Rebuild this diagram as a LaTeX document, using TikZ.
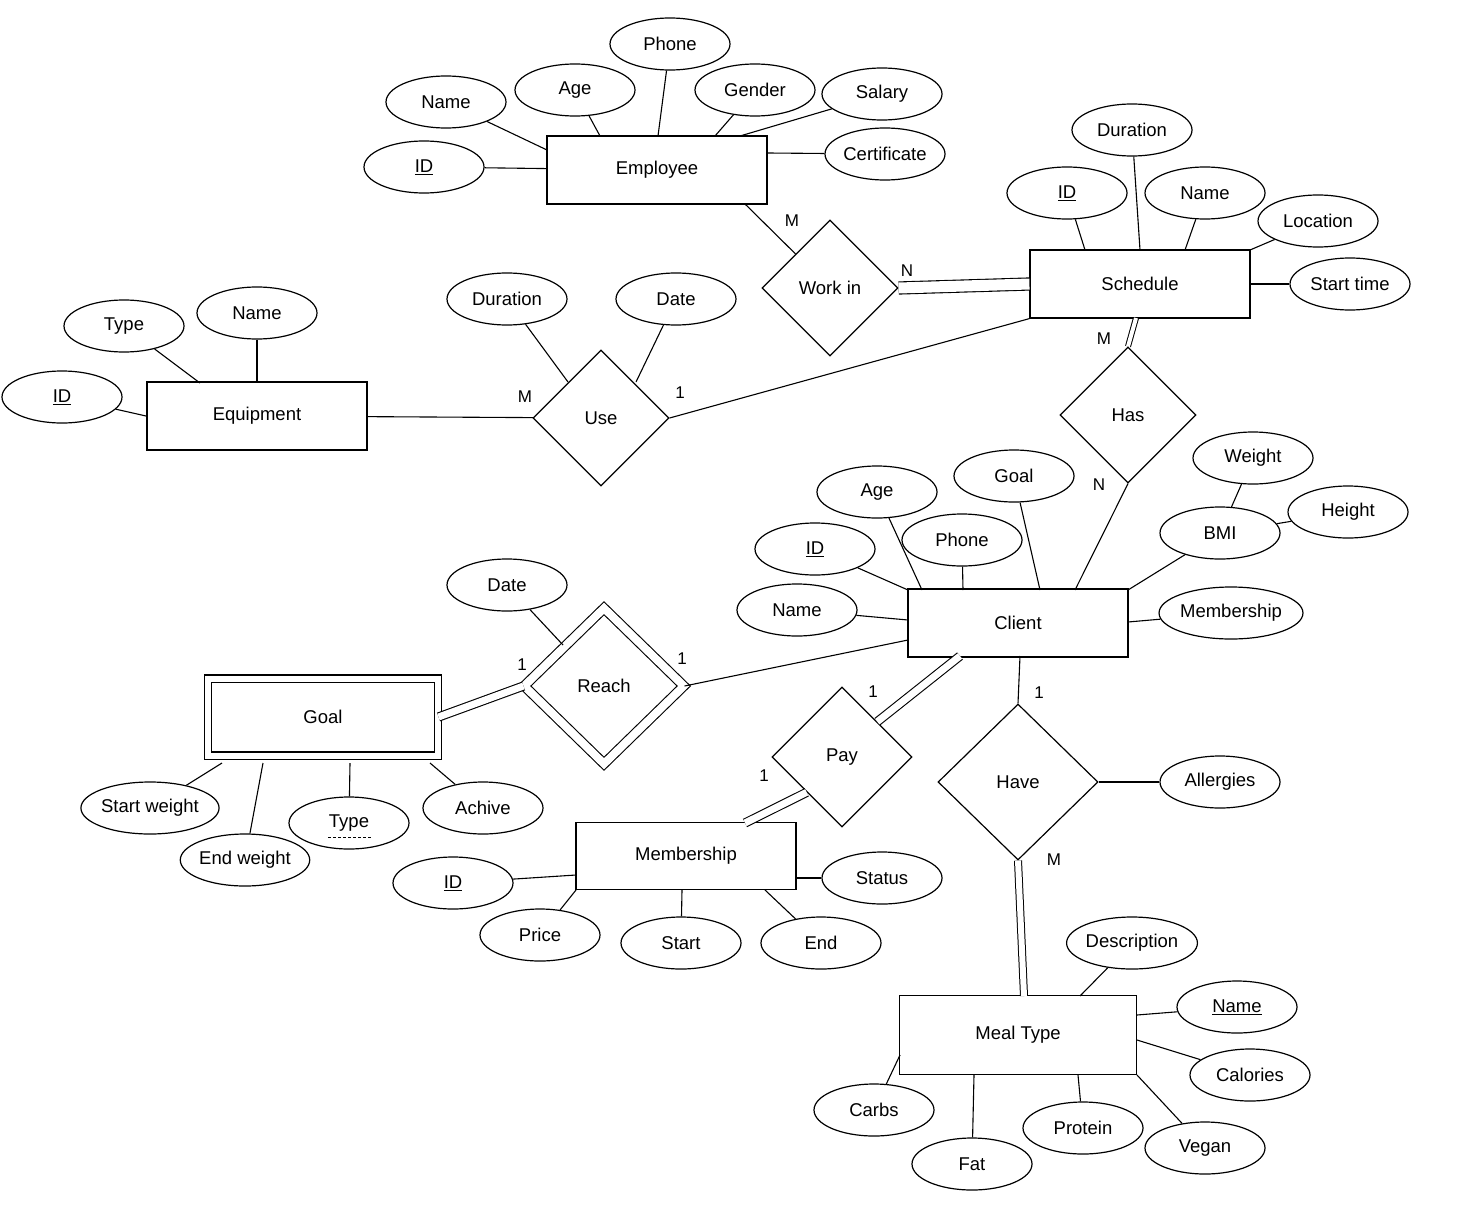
\documentclass[tikz,border=0pt]{standalone}
\usepackage{fontspec}
\setmainfont{Liberation Sans}
\usetikzlibrary{shapes.geometric}
\begin{document}
\begin{tikzpicture}[x=1pt,y=-1pt,font=\fontsize{18.5}{21}\selectfont,
 attr/.style={draw,ellipse,minimum width=120pt,minimum height=52pt,inner sep=0pt,line width=1.2pt},
 ent/.style={draw,rectangle,minimum width=220pt,minimum height=68pt,line width=1.2pt},
 rel/.style={draw,diamond,minimum width=136pt,minimum height=136pt,inner sep=0pt,line width=1.2pt},
 lk/.style={line width=1.1pt},
 dbl/.style={line width=1.1pt,double,double distance=7pt},
 lab/.style={font=\fontsize{17}{19}\selectfont}]
\useasboundingbox (0,0) rectangle (1482,1231);
% Employee
\node[ent] (emp) at (657,170) {Employee};
\node[attr] (ephone) at (670,44) {Phone};
\node[attr] (ename) at (446,102) {Name};
\node[attr] (eage) at (575,90) {Age};
\node[attr] (egender) at (755,90) {Gender};
\node[attr] (esal) at (882,94) {Salary};
\node[attr] (eid) at (424,167) {\underline{ID}};
\node[attr] (ecert) at (885,154) {Certificate};
\draw[lk] (ename) -- (547,150);
\draw[lk] (eage) -- (600,136);
\draw[lk] (ephone) -- (658,136);
\draw[lk] (egender) -- (715,136);
\draw[lk] (esal) -- (740,136);
\draw[lk] (eid) -- (emp);
\draw[lk] (ecert) -- (768,153);
% Work in
\node[rel] (work) at (830,288) {Work in};
\draw[lk] (745,204) -- (work);
\node[lab] at (792,221) {M};
\node[lab] at (907,271) {N};
% Schedule
\node[ent] (sch) at (1140,284) {Schedule};
\draw[line width=1.1pt,double,double distance=11pt] (work.east) -- (sch.west);
\node[attr] (sdur) at (1132,130) {Duration};
\node[attr] (sid) at (1067,193) {\underline{ID}};
\node[attr] (sname) at (1205,193) {Name};
\node[attr] (sloc) at (1318,221) {Location};
\node[attr] (sst) at (1350,284) {Start time};
\draw[lk] (sdur) -- (1140,250);
\draw[lk] (sid) -- (1085,250);
\draw[lk] (sname) -- (1185,250);
\draw[lk] (sloc) -- (1250,250);
\draw[lk] (sst) -- (sch);
% Has
\node[rel] (has) at (1128,415) {Has};
\draw[line width=1pt,double,double distance=4pt] (1136,318) -- (has.north);
\node[lab] at (1104,339) {M};
\node[lab] at (1099,485) {N};
% Equipment
\node[ent] (eq) at (257,416) {Equipment};
\node[attr] (qtype) at (124,326) {Type};
\node[attr] (qname) at (257,313) {Name};
\node[attr] (qid) at (62,397) {\underline{ID}};
\draw[lk] (qtype) -- (200,383);
\draw[lk] (qname) -- (eq);
\draw[lk] (qid) -- (146,416);
% Use
\node[rel] (use) at (601,418) {Use};
\node[attr] (udur) at (507,299) {Duration};
\node[attr] (udate) at (676,299) {Date};
\draw[lk] (eq) -- (use);
\draw[lk] (udur) -- (568,382);
\draw[lk] (udate) -- (636,382);
\draw[lk] (use.east) -- (sch.south west);
\node[lab] at (525,397) {M};
\node[lab] at (680,393) {1};
% Client
\node[ent] (cl) at (1018,623) {Client};
\draw[lk] (has.south) -- (1075,590);
\node[attr] (cage) at (877,492) {Age};
\node[attr] (cgoal) at (1014,476) {Goal};
\node[attr] (cid) at (815,549) {\underline{ID}};
\node[attr] (cphone) at (962,540) {Phone};
\node[attr] (cname) at (797,610) {Name};
\node[attr] (cw) at (1253,458) {Weight};
\node[attr] (cbmi) at (1220,533) {BMI};
\node[attr] (ch) at (1348,512) {Height};
\node[attr,minimum width=130pt] (cmem) at (1231,613) {Membership};
\draw[lk] (cage) -- (922,590);
\draw[lk] (cgoal) -- (1040,590);
\draw[lk] (cid) -- (908,590);
\draw[lk] (cphone) -- (963,590);
\draw[lk] (cname) -- (908,620);
\draw[lk] (cbmi) -- (cw);
\draw[lk] (cbmi) -- (ch);
\draw[lk] (cbmi) -- (1128,590);
\draw[lk] (cmem) -- (1128,622);
% Reach & Goal
\node[draw,diamond,minimum width=160pt,minimum height=156pt,inner sep=0pt,line width=1.1pt,double,double distance=8pt] (reach) at (604,686) {Reach};
\node[attr] (rdate) at (507,585) {Date};
\draw[lk] (rdate) -- (563,645);
\draw[lk] (reach.east) -- (908,640);
\node[lab] at (522,665) {1};
\node[lab] at (682,659) {1};
\node[draw,rectangle,minimum width=230pt,minimum height=77pt,line width=1.1pt,double,double distance=6pt] (goal) at (323,717) {Goal};
\draw[dbl] (goal.east) -- (reach.west);
\node[attr] (gsw) at (150,808) {Start weight};
\node[attr] (gew) at (245,860) {End weight};
\node[attr] (gtype) at (349,823) {Type};
\draw[line width=1pt,dash pattern=on 3pt off 2pt] (328,837) -- (372,837);
\node[attr] (gach) at (483,808) {Achive};
\draw[lk] (gsw) -- (222,763);
\draw[lk] (gew) -- (263,763);
\draw[lk] (gtype) -- (350,763);
\draw[lk] (gach) -- (430,763);
% Pay & Membership
\node[rel,minimum width=140pt,minimum height=140pt] (pay) at (842,757) {Pay};
\draw[dbl] (960,656) -- (pay.north east);
\node[lab] at (873,692) {1};
\node[lab] at (764,776) {1};
\node[ent,minimum height=67pt] (mem) at (686,856) {Membership};
\draw[dbl] (pay.south west) -- (745,823);
\node[attr] (mid) at (453,883) {\underline{ID}};
\node[attr] (mprice) at (540,935) {Price};
\node[attr] (mstart) at (681,943) {Start};
\node[attr] (mend) at (821,943) {End};
\node[attr] (mstat) at (882,878) {Status};
\draw[lk] (mid) -- (576,875);
\draw[lk] (mprice) -- (576,890);
\draw[lk] (mstart) -- (682,890);
\draw[lk] (mend) -- (765,890);
\draw[lk] (mstat) -- (796,878);
% Have & Meal Type
\node[rel,minimum width=160pt,minimum height=156pt] (have) at (1018,782) {Have};
\draw[lk] (1020,656) -- (have.north);
\node[lab] at (1039,693) {1};
\node[lab] at (1054,860) {M};
\node[attr] (all) at (1220,782) {Allergies};
\draw[lk] (have.east) -- (all);
\node[ent,minimum width=237pt,minimum height=79pt] (meal) at (1018,1035) {Meal Type};
\draw[line width=1pt,double,double distance=6pt] (have.south) -- (1024,996);
\node[attr] (mdesc) at (1132,943) {Description};
\node[attr] (mname) at (1237,1007) {\underline{Name}};
\node[attr] (mcal) at (1250,1075) {Calories};
\node[attr] (mveg) at (1205,1148) {Vegan};
\node[attr] (mpro) at (1083,1128) {Protein};
\node[attr] (mfat) at (972,1164) {Fat};
\node[attr] (mcarb) at (874,1110) {Carbs};
\draw[lk] (mdesc) -- (1080,996);
\draw[lk] (mname) -- (1137,1015);
\draw[lk] (mcal) -- (1137,1040);
\draw[lk] (mveg) -- (1137,1075);
\draw[lk] (mpro) -- (1078,1075);
\draw[lk] (mfat) -- (974,1075);
\draw[lk] (mcarb) -- (900,1055);
\end{tikzpicture}
\end{document}
